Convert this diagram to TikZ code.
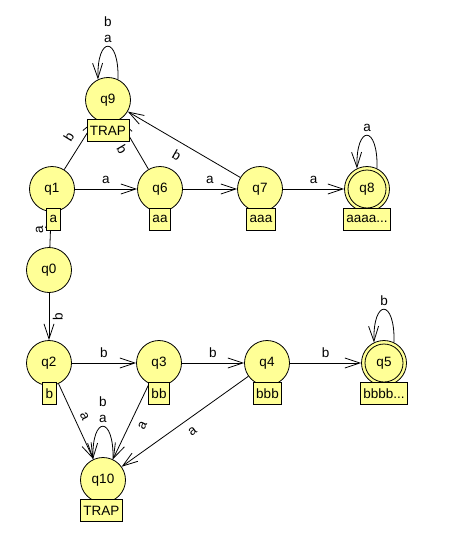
\documentclass[tikz,border=0pt]{standalone}
\usepackage{fontspec}
\setmainfont{Liberation Sans}
\usetikzlibrary{arrows.meta}
\definecolor{stfill}{RGB}{255,255,150}
\begin{document}
\begin{tikzpicture}[x=1pt,y=-1pt,
  font=\fontsize{13.5}{16}\selectfont,
  state/.style={circle, draw, fill=stfill, minimum size=45pt, inner sep=0pt, line width=0.8pt},
  accept/.style={state, path picture={\draw[line width=0.8pt] (path picture bounding box.center) circle (19pt);}},
  tag/.style={draw, fill=stfill, inner xsep=3pt, inner ysep=0pt, minimum height=22pt, anchor=north, line width=0.8pt},
  tr/.style={draw, line width=0.8pt, -{Straight Barb[length=15pt, width=10pt, line width=0.8pt]}},
  elab/.style={inner sep=0pt, text height=7pt, text depth=0pt},
  hlab/.style={elab, above=5pt},
  looplab/.style={elab, pos=0.5, anchor=south, yshift=4pt},
  looplabb/.style={elab, pos=0.5, anchor=south, yshift=20pt}
]
\useasboundingbox (0,0) rectangle (461,551);
\fill[white] (0,0) rectangle (461,551);

% state positions
\coordinate (p9) at (108,100);
\coordinate (p1) at (52,189);
\coordinate (p6) at (160,189);
\coordinate (p7) at (260,189);
\coordinate (p8) at (367,189);
\coordinate (p0) at (49,270);
\coordinate (p2) at (49,363);
\coordinate (p3) at (159,363);
\coordinate (p4) at (267,363);
\coordinate (p5) at (384,363);
\coordinate (p10) at (103,480);

% invisible placement of states for edge computation
\node[state, draw=none, fill=none] (q9) at (p9) {};
\node[state, draw=none, fill=none] (q1) at (p1) {};
\node[state, draw=none, fill=none] (q6) at (p6) {};
\node[state, draw=none, fill=none] (q7) at (p7) {};
\node[state, draw=none, fill=none] (q8) at (p8) {};
\node[state, draw=none, fill=none] (q0) at (p0) {};
\node[state, draw=none, fill=none] (q2) at (p2) {};
\node[state, draw=none, fill=none] (q3) at (p3) {};
\node[state, draw=none, fill=none] (q4) at (p4) {};
\node[state, draw=none, fill=none] (q5) at (p5) {};
\node[state, draw=none, fill=none] (q10) at (p10) {};

% edges
\draw[tr] (q1) -- node[hlab] (e16) {a} (q6);
\draw[tr] (q6) -- node[hlab] (e67) {a} (q7);
\draw[tr] (q7) -- node[hlab] (e78) {a} (q8);
\draw[tr] (q2) -- node[hlab] (e23) {b} (q3);
\draw[tr] (q3) -- node[hlab] (e34) {b} (q4);
\draw[tr] (q4) -- node[hlab] (e45) {b} (q5);

\draw[tr] (q0) -- node[elab, pos=0.5, shift={(-11,0)}, rotate=90] (e01) {a} (q1);
\draw[tr] (q0) -- node[elab, pos=0.5, shift={(10,0)}, rotate=90] (e02) {b} (q2);
\draw[tr] (q1) -- node[elab, pos=0.5, shift={(-10,-7.5)}, rotate=58] (e19) {b} (q9);
\draw[tr] (q6) -- node[elab, pos=0.5, shift={(-13,5.5)}, rotate=-60] (e69) {b} (q9);
\draw[tr] (q7) -- node[elab, pos=0.5, shift={(-8,12)}, rotate=-30] (e79) {b} (q9);
\draw[tr] (q2) -- node[elab, pos=0.5, shift={(8.5,-5)}, rotate=-65] (e210) {a} (q10);
\draw[tr] (q3) -- node[elab, pos=0.5, shift={(11.5,4)}, rotate=64] (e310) {a} (q10);
\draw[tr] (q4) -- node[elab, pos=0.5, shift={(7.5,10)}, rotate=36] (e410) {a} (q10);

% loops
\draw[tr] (q9.64) .. controls +(1,-44) and +(-1,-44) .. node[looplab] (l9a) {a} node[looplabb] (l9b) {b} (q9.116);
\draw[tr] (q8.64) .. controls +(1,-44) and +(-1,-44) .. node[looplab] (l8a) {a} (q8.116);
\draw[tr] (q5.64) .. controls +(1,-44) and +(-1,-44) .. node[looplab] (l5b) {b} (q5.116);
\draw[tr] (q10.64) .. controls +(1,-44) and +(-1,-44) .. node[looplab] (l10a) {a} node[looplabb] (l10b) {b} (q10.116);

% states drawn
\node[state] (s9) at (p9) {q9};
\node[state] (s1) at (p1) {q1};
\node[state] (s6) at (p6) {q6};
\node[state] (s7) at (p7) {q7};
\node[accept] (s8) at (p8) {q8};
\node[state] (s0) at (p0) {q0};
\node[state] (s2) at (p2) {q2};
\node[state] (s3) at (p3) {q3};
\node[state] (s4) at (p4) {q4};
\node[accept] (s5) at (p5) {q5};
\node[state] (s10) at (p10) {q10};

% state labels
\node[tag] (t9) at (108,119) {TRAP};
\node[tag] (t1) at (53.5,208) {a};
\node[tag] (t6) at (160,208) {aa};
\node[tag] (t7) at (261,208) {aaa};
\node[tag] (t8) at (367,208) {aaaa...};
\node[tag] (t2) at (49.5,382) {b};
\node[tag] (t3) at (159,382) {bb};
\node[tag] (t4) at (267.5,382) {bbb};
\node[tag] (t5) at (384,382) {bbbb...};
\node[tag] (t10) at (101.5,499) {TRAP};
\end{tikzpicture}
\end{document}
